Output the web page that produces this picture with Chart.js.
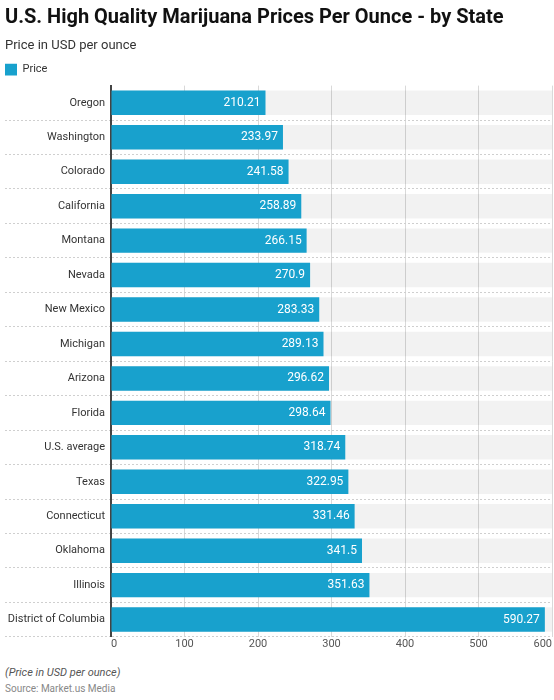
<!DOCTYPE html>
<html>
<head>
<meta charset="utf-8">
<script src="https://cdn.jsdelivr.net/npm/chart.js@4.4.1/dist/chart.umd.min.js"></script>
<style>
  body { margin: 0; background: #fff; font-family: Roboto, sans-serif; }
  #wrap { position: relative; width: 554px; height: 700px; }
  #box { position: absolute; left: 0; top: 0; width: 554px; height: 652px; }
  .note { position: absolute; left: 5px; font-family: Roboto, sans-serif; }
  #note1 { top: 666px; font-size: 11px; font-style: italic; color: #555; }
  #note2 { top: 683px; font-size: 10px; color: #888; }
</style>
</head>
<body>
<div id="wrap">
  <div id="box"><canvas id="chart"></canvas></div>
  <div class="note" id="note1">(Price in USD per ounce)</div>
  <div class="note" id="note2">Source: Market.us Media</div>
</div>
<script>
// các bang và giá (USD / ounce)
const states = ['Oregon', 'Washington', 'Colorado', 'California', 'Montana', 'Nevada', 'New Mexico',
  'Michigan', 'Arizona', 'Florida', 'U.S. average', 'Texas', 'Connecticut', 'Oklahoma', 'Illinois',
  'District of Columbia'];
const prices = [210.21, 233.97, 241.58, 258.89, 266.15, 270.9, 283.33, 289.13, 296.62, 298.64,
  318.74, 322.95, 331.46, 341.5, 351.63, 590.27];
const xTicks = [0, 100, 200, 300, 400, 500, 600];
const xMax = 600;

// nền xám phía sau mỗi thanh
const bandValues = states.map(() => xMax);

// vẽ số lên đầu thanh
const valueLabels = {
  id: 'valueLabels',
  afterDatasetsDraw(chart) {
    const ctx = chart.ctx;
    const meta = chart.getDatasetMeta(0);
    ctx.save();
    ctx.font = '12px Roboto';
    ctx.fillStyle = '#fff';
    ctx.textAlign = 'right';
    ctx.textBaseline = 'middle';
    meta.data.forEach((bar, i) => {
      ctx.fillText(String(prices[i]), bar.x - 5, bar.y);
    });
    ctx.restore();
  }
};

const lastIdx = states.length;

new Chart(document.getElementById('chart'), {
  type: 'bar',
  data: {
    labels: states,
    datasets: [{
      label: 'Price',
      data: prices,
      backgroundColor: '#18a1cd',
      barPercentage: 0.71,
      categoryPercentage: 1,
      grouped: false,
      order: 0
    }, {
      label: 'band',
      data: bandValues,
      backgroundColor: 'rgba(0,0,0,0.05)',
      barPercentage: 0.71,
      categoryPercentage: 1,
      grouped: false,
      order: 1
    }]
  },
  options: {
    indexAxis: 'y',
    responsive: true,
    maintainAspectRatio: false,
    animation: false,
    layout: { padding: { left: 5, right: 2, top: 0, bottom: 0 } },
    plugins: {
      title: {
        display: true,
        text: 'U.S. High Quality Marijuana Prices Per Ounce - by State',
        align: 'start',
        color: '#111',
        font: { family: 'Roboto', size: 20, weight: 'bold' },
        padding: { top: 6, bottom: 4 }
      },
      subtitle: {
        display: true,
        text: 'Price in USD per ounce',
        align: 'start',
        color: '#333',
        font: { family: 'Roboto', size: 13 },
        padding: { top: 4, bottom: 10 }
      },
      legend: {
        align: 'start',
        labels: {
          filter: item => item.datasetIndex === 0,
          boxWidth: 12,
          boxHeight: 12,
          padding: 0,
          color: '#333',
          font: { family: 'Roboto', size: 11 }
        }
      },
      tooltip: { enabled: false }
    },
    scales: {
      x: {
        min: 0,
        max: xMax,
        afterBuildTicks: scale => { scale.ticks = xTicks.map(v => ({ value: v })); },
        grid: { color: '#d9d9d9', drawTicks: false },
        border: { display: false },
        ticks: {
          align: 'inner',
          padding: 1,
          color: '#555',
          font: { family: 'Roboto', size: 11 }
        }
      },
      y: {
        afterFit: scale => { scale.width = 106; },
        grid: {
          color: c => (c.index === 0 || c.index === lastIdx) ? 'rgba(0,0,0,0)' : '#cfcfcf',
          tickColor: c => (c.index === 0 || c.index === lastIdx) ? 'rgba(0,0,0,0)' : '#cfcfcf',
          tickLength: 106,
          tickBorderDash: [2, 2]
        },
        border: { color: '#444', width: 2, dash: [2, 2] },
        ticks: {
          padding: -100,
          color: '#333',
          font: { family: 'Roboto', size: 11 }
        }
      }
    }
  },
  plugins: [valueLabels]
});
</script>
</body>
</html>
